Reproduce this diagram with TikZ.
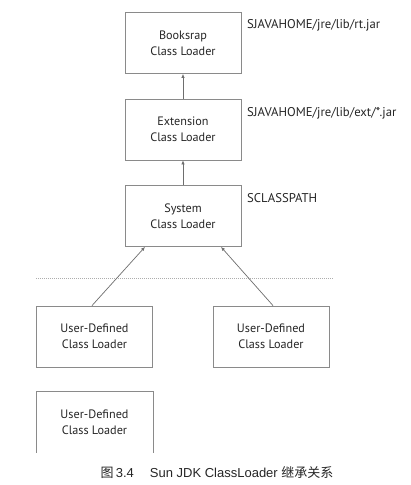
\documentclass[tikz,border=0pt]{standalone}
\usepackage{fontspec}
\usetikzlibrary{arrows.meta}
\setmainfont{PT Sans}
\newfontfamily\capfont{Liberation Sans}
\newfontfamily\cjk{Noto Sans CJK SC}
\definecolor{boxline}{HTML}{8A8A8A}
\definecolor{txt}{HTML}{262626}
\begin{document}
\begin{tikzpicture}[x=1pt,y=-1pt,
  loader/.style={draw=boxline,line width=0.8pt,minimum width=116pt,minimum height=61pt,align=center,font=\fontsize{12.2}{16}\selectfont,text=txt,inner sep=0pt},
  pathlbl/.style={anchor=west,font=\fontsize{12.7}{14}\selectfont,text=txt,inner sep=0pt},
  conn/.style={draw=boxline!80!black,line width=0.7pt,-{Latex[length=4pt,width=3.5pt]}}]
\useasboundingbox[fill=white] (0,0) rectangle (411,485);
\node[loader] (boot) at (183,43) {Booksrap\\Class Loader};
\node[loader] (ext) at (183,129.5) {Extension\\Class Loader};
\node[loader] (sys) at (183,216) {System\\Class Loader};
\node[loader] (u1) at (94.5,336.5) {User-Defined\\Class Loader};
\node[loader] (u2) at (271,336.5) {User-Defined\\Class Loader};
\node[loader,draw=none] (u3) at (94.5,422) {User-Defined\\Class Loader};
\draw[boxline,line width=0.8pt] (u3.south west) -- (u3.north west) -- (u3.north east) -- (u3.south east);
\node[pathlbl] (l1) at (247,25) {SJAVAHOME/jre/lib/rt.jar};
\node[pathlbl] (l2) at (247,113) {SJAVAHOME/jre/lib/ext/*.jar};
\node[pathlbl] (l3) at (247,198) {SCLASSPATH};
\coordinate (dl) at (36,278);
\coordinate (dr) at (333,278);
\draw[boxline!70,line width=0.7pt,dash pattern=on 1pt off 1pt] (dl) -- (dr);
\draw[conn] (ext.north) -- (boot.south);
\draw[conn] (sys.north) -- (ext.south);
\draw[conn] (u1.north -| 92,0) -- (sys.south -| 145,0);
\draw[conn] (u2.north -| 273,0) -- (sys.south -| 221,0);
\node[font=\fontsize{13}{15}\selectfont,text=txt,inner sep=0pt] (cap) at (217,473) {{\cjk 图}\,{\capfont 3.4}\hspace{16pt}{\capfont Sun JDK ClassLoader} {\cjk 继承关系}};
\end{tikzpicture}
\end{document}
